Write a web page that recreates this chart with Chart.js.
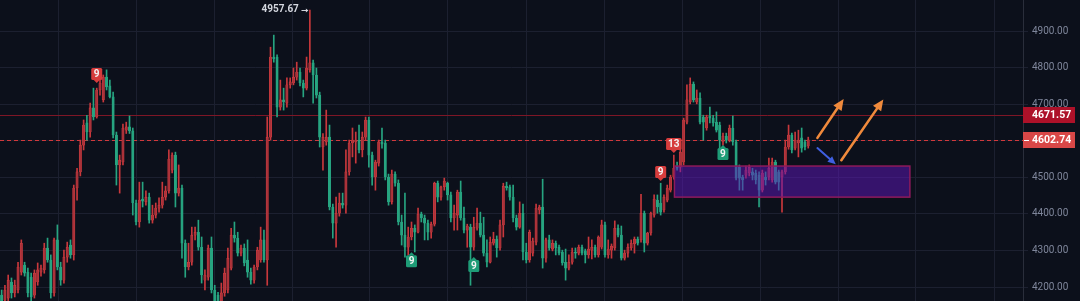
<!DOCTYPE html>
<html><head><meta charset="utf-8">
<script src="https://cdn.jsdelivr.net/npm/chart.js@4.4.1/dist/chart.umd.min.js"></script>
<style>html,body{margin:0;padding:0;background:#0c101b;overflow:hidden}#wrap{width:1080px;height:301px;position:relative}</style>
</head><body><div id="wrap"><canvas id="c"></canvas></div>
<script>
const opens=[4178,4164,4170,4214,4184,4192,4241,4260,4241,4227,4178,4214,4241,4247,4307,4274,4184,4329,4255,4219,4282,4315,4288,4471,4515,4588,4649,4624,4690,4665,4739,4712,4774,4750,4720,4616,4534,4542,4629,4638,4627,4430,4378,4441,4433,4446,4383,4397,4416,4424,4446,4463,4520,4561,4457,4471,4320,4255,4268,4342,4350,4309,4219,4227,4307,4192,4178,4159,4184,4192,4252,4342,4334,4293,4307,4274,4241,4219,4255,4274,4329,4274,4610,4829,4829,4692,4712,4703,4753,4758,4774,4788,4758,4744,4794,4813,4780,4725,4583,4597,4610,4419,4375,4402,4430,4424,4515,4594,4597,4602,4575,4610,4657,4561,4501,4539,4597,4594,4501,4433,4509,4484,4378,4342,4309,4337,4361,4350,4400,4389,4375,4350,4372,4484,4446,4474,4484,4452,4389,4397,4460,4389,4356,4364,4309,4361,4375,4342,4293,4268,4320,4331,4307,4370,4476,4474,4446,4389,4364,4402,4296,4274,4293,4323,4411,4419,4279,4329,4304,4320,4309,4296,4268,4252,4268,4296,4293,4309,4299,4288,4301,4309,4288,4309,4370,4288,4301,4307,4361,4342,4279,4293,4307,4318,4331,4329,4402,4320,4348,4397,4438,4430,4411,4438,4465,4501,4531,4528,4542,4651,4706,4755,4706,4717,4665,4635,4668,4662,4651,4643,4597,4613,4602,4635,4597,4528,4501,4506,4512,4515,4512,4506,4465,4501,4501,4493,4542,4515,4501,4515,4583,4616,4580,4594,4608,4597,4586];
const highs=[4192,4205,4233,4225,4219,4268,4329,4268,4252,4238,4247,4266,4260,4320,4334,4288,4334,4370,4268,4301,4323,4329,4479,4525,4602,4657,4670,4703,4744,4744,4766,4780,4794,4766,4733,4624,4561,4646,4651,4668,4635,4438,4487,4487,4463,4457,4424,4430,4444,4487,4476,4575,4567,4569,4534,4479,4329,4320,4364,4364,4383,4337,4247,4315,4337,4205,4186,4211,4252,4307,4361,4378,4350,4315,4318,4329,4252,4260,4309,4364,4356,4665,4856,4889,4835,4766,4744,4772,4772,4799,4815,4799,4766,4829,4957.67,4821,4799,4733,4620,4684,4643,4427,4446,4457,4457,4575,4602,4635,4624,4643,4624,4665,4665,4569,4547,4602,4635,4602,4509,4520,4515,4493,4397,4457,4364,4378,4370,4416,4405,4397,4383,4378,4487,4490,4476,4498,4487,4460,4424,4465,4490,4419,4372,4372,4391,4416,4405,4391,4329,4337,4350,4340,4383,4484,4487,4479,4479,4397,4433,4427,4320,4356,4334,4427,4424,4495,4334,4342,4329,4326,4315,4301,4304,4288,4307,4307,4315,4315,4304,4337,4329,4315,4340,4383,4378,4329,4318,4381,4370,4367,4301,4318,4329,4337,4337,4454,4408,4350,4405,4452,4452,4484,4452,4479,4506,4561,4542,4594,4662,4753,4772,4761,4739,4731,4670,4670,4692,4670,4679,4651,4621,4621,4643,4668,4602,4534,4506,4531,4534,4525,4520,4515,4520,4515,4553,4553,4547,4520,4520,4602,4643,4621,4624,4629,4635,4602,4610];
const lows=[4137,4151,4159,4170,4173,4184,4233,4230,4173,4162,4170,4205,4230,4238,4268,4170,4175,4247,4205,4211,4268,4279,4274,4438,4504,4575,4602,4610,4657,4662,4725,4706,4739,4717,4608,4479,4457,4534,4620,4620,4397,4370,4364,4419,4424,4375,4375,4389,4405,4416,4438,4457,4512,4419,4449,4279,4227,4247,4260,4329,4301,4211,4192,4219,4184,4143,4125,4148,4175,4184,4247,4323,4285,4285,4258,4227,4208,4211,4247,4268,4268,4205,4602,4815,4665,4684,4684,4692,4744,4753,4766,4750,4720,4739,4788,4703,4717,4583,4520,4588,4411,4334,4309,4394,4416,4402,4506,4556,4539,4567,4556,4602,4528,4479,4465,4531,4580,4493,4424,4427,4476,4370,4315,4282,4288,4329,4296,4348,4378,4329,4329,4334,4367,4433,4438,4465,4438,4378,4356,4356,4383,4348,4309,4205,4301,4356,4337,4285,4255,4266,4315,4282,4301,4337,4465,4438,4378,4356,4361,4274,4266,4268,4285,4315,4400,4252,4268,4301,4299,4288,4288,4260,4219,4247,4263,4279,4288,4288,4266,4279,4277,4282,4282,4304,4282,4279,4279,4301,4337,4274,4274,4282,4301,4293,4315,4323,4296,4315,4342,4391,4402,4397,4405,4433,4460,4495,4520,4515,4534,4646,4701,4706,4701,4646,4602,4629,4649,4640,4624,4575,4588,4594,4597,4588,4493,4465,4465,4498,4504,4493,4482,4419,4460,4479,4493,4487,4482,4465,4405,4509,4577,4567,4575,4556,4569,4575,4580];
const closes=[4151,4192,4219,4184,4205,4255,4320,4238,4184,4173,4238,4247,4252,4307,4274,4184,4329,4255,4219,4282,4309,4288,4471,4515,4588,4643,4624,4690,4665,4739,4758,4774,4747,4720,4616,4534,4547,4635,4638,4627,4430,4378,4438,4435,4446,4383,4397,4416,4424,4446,4463,4550,4561,4457,4471,4320,4255,4268,4342,4350,4309,4233,4233,4307,4192,4156,4137,4184,4238,4279,4342,4334,4293,4307,4266,4241,4219,4255,4301,4329,4274,4610,4829,4824,4692,4712,4706,4753,4761,4774,4788,4758,4744,4799,4813,4780,4725,4610,4610,4610,4419,4375,4402,4430,4424,4515,4594,4602,4602,4575,4610,4657,4561,4501,4542,4597,4591,4501,4433,4509,4484,4378,4342,4309,4337,4361,4350,4400,4389,4375,4350,4372,4484,4446,4474,4490,4452,4389,4402,4460,4389,4356,4367,4309,4364,4375,4342,4293,4268,4323,4331,4307,4370,4476,4471,4446,4389,4364,4402,4296,4274,4350,4326,4416,4419,4279,4329,4307,4320,4307,4293,4266,4252,4268,4296,4293,4309,4293,4288,4304,4309,4288,4337,4370,4288,4304,4312,4361,4342,4279,4293,4309,4320,4331,4320,4402,4320,4348,4402,4441,4419,4405,4446,4471,4501,4525,4525,4569,4657,4712,4755,4712,4717,4651,4651,4665,4662,4649,4629,4602,4613,4602,4635,4597,4498,4498,4493,4520,4528,4506,4493,4465,4512,4493,4525,4542,4487,4487,4515,4583,4616,4575,4602,4602,4580,4583,4602.74];

const slotCount = 312;
const yTicks = [4200, 4300, 4400, 4500, 4600, 4700, 4800, 4900];
const yMin = 4162, yMax = 4985;
const timeGrid = [17.2, 41, 64.8, 88.6, 112.1, 135.9, 159.8, 183.6, 207.4, 231.2, 255, 278.5, 302.6];
const levelHigh = 4671.57, levelLast = 4602.74;
const zone = {from: 205.2, to: 277, top: 4531, bottom: 4446};
const tdMarks = [
  {t:'9', i:29, p:4783, up:false},
  {t:'9', i:125, p:4271, up:true},
  {t:'9', i:144, p:4258, up:true},
  {t:'9', i:201, p:4515, up:false},
  {t:'13', i:205, p:4591, up:false},
  {t:'9', i:220, p:4564, up:true}
];
const arrowsData = [
  {x0:248.8, y0:4608, x1:256.8, y1:4714, c:'#f08a3c', w:2.6, h:11},
  {x0:256.1, y0:4547, x1:268.9, y1:4713, c:'#f08a3c', w:2.6, h:11},
  {x0:248.8, y0:4580, x1:254.4, y1:4536, c:'#3f5fe0', w:2, h:8}
];
const highMark = {i: 94, p: 4957.67};

const isUp = closes.map((c,k)=>c>=opens[k]);
const bodyData = opens.map((o,k)=>[Math.min(o,closes[k]), Math.max(o,closes[k])]);
const wickData = lows.map((l,k)=>[l, highs[k]]);
const labels = Array.from({length:slotCount},(_,k)=>k);

function drawArrow(ctx,x0,y0,x1,y1,c,w,h){
  const dx=x1-x0, dy=y1-y0, L=Math.hypot(dx,dy), ux=dx/L, uy=dy/L;
  const bx=x1-ux*h, by=y1-uy*h;
  ctx.strokeStyle=c; ctx.fillStyle=c; ctx.lineWidth=w; ctx.lineCap='round';
  ctx.beginPath(); ctx.moveTo(x0,y0); ctx.lineTo(bx+ux*2,by+uy*2); ctx.stroke();
  const hw=h*0.45;
  ctx.beginPath(); ctx.moveTo(x1,y1); ctx.lineTo(bx-uy*hw,by+ux*hw); ctx.lineTo(bx+uy*hw,by-ux*hw); ctx.closePath(); ctx.fill();
}
function tdLabel(ctx,x,y,t,up){
  const col = up ? '#1e9c77' : '#d63c3c';
  ctx.font='bold 10px Roboto'; const tw=ctx.measureText(t).width;
  const w=Math.max(11,tw+4), h=12;
  ctx.fillStyle=col;
  ctx.beginPath(); ctx.roundRect(x-w/2,y-h/2,w,h,1.5); ctx.fill();
  ctx.beginPath();
  if(up){ctx.moveTo(x-3,y-h/2);ctx.lineTo(x+3,y-h/2);ctx.lineTo(x,y-h/2-3);}
  else{ctx.moveTo(x-3,y+h/2);ctx.lineTo(x+3,y+h/2);ctx.lineTo(x,y+h/2+3);}
  ctx.fill();
  ctx.fillStyle='#f4f4f4'; ctx.textAlign='center'; ctx.textBaseline='middle';
  ctx.fillText(t,x,y+0.5);
}

const overlay = {
  id:'overlay',
  beforeDatasetsDraw(chart){
    const {ctx, chartArea:a, scales:{x,y}} = chart;
    ctx.save();
    ctx.strokeStyle='#1c2030'; ctx.lineWidth=1;
    timeGrid.forEach(g=>{const px=Math.round(x.getPixelForValue(g))+0.5;ctx.beginPath();ctx.moveTo(px,a.top);ctx.lineTo(px,a.bottom);ctx.stroke();});
    let py=Math.round(y.getPixelForValue(levelHigh))+0.5;
    ctx.strokeStyle='#7e1626'; ctx.beginPath(); ctx.moveTo(a.left,py); ctx.lineTo(a.right,py); ctx.stroke();
    py=Math.round(y.getPixelForValue(levelLast))+0.5;
    ctx.strokeStyle='#d0393c'; ctx.setLineDash([4,3]); ctx.beginPath(); ctx.moveTo(a.left,py); ctx.lineTo(a.right,py); ctx.stroke();
    ctx.restore();
  },
  afterDatasetsDraw(chart){
    const {ctx, scales:{x,y}} = chart;
    ctx.save();
    const zx0=x.getPixelForValue(zone.from), zx1=x.getPixelForValue(zone.to);
    const zy0=y.getPixelForValue(zone.top), zy1=y.getPixelForValue(zone.bottom);
    ctx.fillStyle='rgba(96,22,190,0.5)'; ctx.fillRect(zx0,zy0,zx1-zx0,zy1-zy0);
    ctx.strokeStyle='#8e1a5c'; ctx.lineWidth=1.5; ctx.strokeRect(zx0,zy0,zx1-zx0,zy1-zy0);
    arrowsData.forEach(a=>drawArrow(ctx,x.getPixelForValue(a.x0),y.getPixelForValue(a.y0),x.getPixelForValue(a.x1),y.getPixelForValue(a.y1),a.c,a.w,a.h));
    tdMarks.forEach(m=>tdLabel(ctx,x.getPixelForValue(m.i),y.getPixelForValue(m.p),m.t,m.up));
    const hx=x.getPixelForValue(highMark.i), hy=y.getPixelForValue(highMark.p);
    ctx.fillStyle='#d3d6de'; ctx.font='bold 10px Roboto'; ctx.textAlign='right'; ctx.textBaseline='middle';
    ctx.fillText(highMark.p.toFixed(2), hx-11, hy);
    ctx.strokeStyle='#d3d6de'; ctx.lineWidth=1;
    ctx.beginPath(); ctx.moveTo(hx-8,hy+0.5); ctx.lineTo(hx-3,hy+0.5); ctx.stroke();
    ctx.fillStyle='#d3d6de'; ctx.beginPath(); ctx.moveTo(hx-1.5,hy+0.5); ctx.lineTo(hx-4,hy-1.5); ctx.lineTo(hx-4,hy+2.5); ctx.closePath(); ctx.fill();
    ctx.restore();
  },
  afterDraw(chart){
    const {ctx, chartArea:a, scales:{y}} = chart;
    ctx.save();
    const box=(v,bg)=>{const py=y.getPixelForValue(v);ctx.fillStyle=bg;ctx.fillRect(a.right,Math.round(py)-8,52,16);
      ctx.fillStyle='#ffffff';ctx.font='bold 10.5px Roboto';ctx.textAlign='left';ctx.textBaseline='middle';ctx.fillText(v.toFixed(2),a.right+9,py+0.5);};
    box(levelHigh,'#ad1129');
    box(levelLast,'#d84747');
    const py=Math.round(y.getPixelForValue(levelLast))+0.5;
    ctx.strokeStyle='#ffffff'; ctx.lineWidth=1; ctx.beginPath(); ctx.moveTo(a.right+1,py); ctx.lineTo(a.right+6,py); ctx.stroke();
    ctx.restore();
  }
};

new Chart(document.getElementById('c'), {
  type:'bar',
  data:{labels, datasets:[
    {label:'body', data:bodyData, order:0, grouped:false, barThickness:2.4, minBarLength:1,
     backgroundColor:isUp.map(u=>u?'#a9323a':'#27a480'), borderColor:isUp.map(u=>u?'#d23c3f':'#27a480'), borderWidth:0.6, borderSkipped:false},
    {label:'wick', data:wickData, order:1, grouped:false, barThickness:1,
     backgroundColor:isUp.map(u=>u?'#c8383c':'#27a480')}
  ]},
  options:{
    responsive:true, maintainAspectRatio:false, animation:false, events:[],
    devicePixelRatio:1,
    layout:{padding:0},
    plugins:{legend:{display:false}, tooltip:{enabled:false}},
    scales:{
      x:{type:'category', display:false, offset:true, grid:{display:false}},
      y:{position:'right', min:yMin, max:yMax,
         afterBuildTicks:s=>{s.ticks=yTicks.map(v=>({value:v}));},
         afterFit:s=>{s.width=57; s.paddingTop=0; s.paddingBottom=0;},
         ticks:{color:'#7f869b', font:{family:'Roboto', size:10}, padding:4, callback:v=>Number(v).toFixed(2)},
         grid:{color:'#1c2030', tickLength:5, tickColor:'#1c2030'},
         border:{color:'#2a2e3b'}}
    }
  },
  plugins:[overlay]
});
</script>
</body></html>
